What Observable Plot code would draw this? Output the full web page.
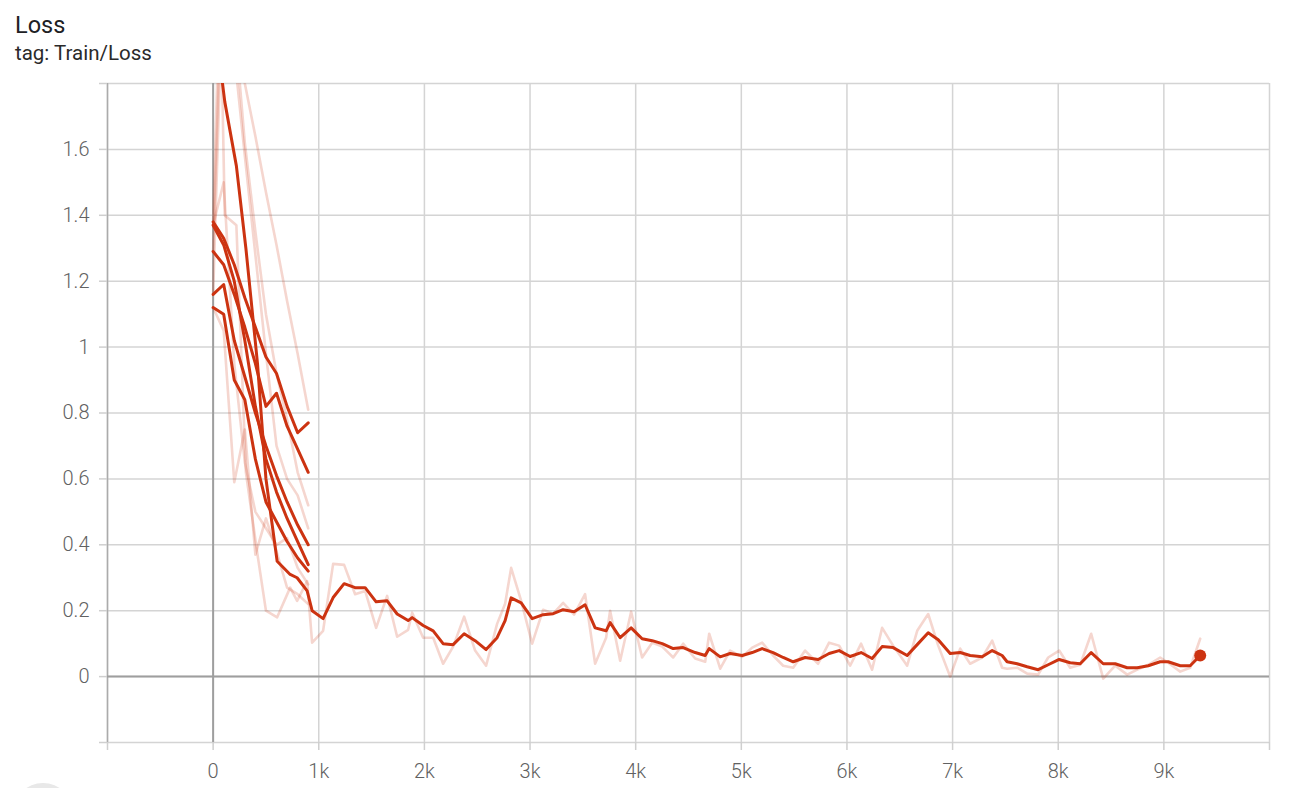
<!DOCTYPE html>
<html>
<head>
<meta charset="utf-8">
<script src="https://cdn.jsdelivr.net/npm/d3@7"></script>
<script src="https://cdn.jsdelivr.net/npm/@observablehq/plot@0.6"></script>
<style>
  html, body { margin: 0; padding: 0; background: #fff; width: 1300px; height: 788px; overflow: hidden; }
  #hdr { position: relative; height: 64px; font-family: Roboto, "Noto Sans", sans-serif; }
  #title { position: absolute; left: 15px; top: 14px; font-size: 23.5px; line-height: 23px; color: #202124; }
  #subtitle { position: absolute; left: 15px; top: 43px; font-size: 20.5px; line-height: 20px; color: #2a2a2a; }
  #chart svg { display: block; }
  #fab { position: absolute; left: 13px; top: 783px; width: 60px; height: 60px; border-radius: 50%; background: #e8e8e8; }
</style>
</head>
<body>
<div id="hdr"><div id="title">Loss</div><div id="subtitle">tag: Train/Loss</div></div>
<div id="chart"></div>
<div id="fab"></div>
<script>
// ---------- data ----------
const runColor = "#cc3311";

// long run (steps, raw values, smoothed values)
const mainSteps = [0,110,220,310,420,500,606,729,795,890,937,1041,1136,1240,1344,1439,1543,1647,1742,1846,1884,1988,2083,2177,2272,2376,2480,2584,2688,2764,2821,2916,3020,3124,3219,3313,3417,3521,3616,3720,3758,3853,3957,4061,4156,4251,4355,4449,4563,4658,4696,4800,4894,5008,5103,5197,5301,5396,5491,5604,5727,5831,5926,6030,6134,6238,6333,6437,6570,6665,6769,6864,6977,7072,7166,7280,7375,7469,7516,7611,7706,7810,7905,8009,8113,8208,8312,8426,8539,8653,8748,8852,8965,9041,9155,9249,9344];
const mainRaw = [3.2,1.40,1.37,0.62,0.37,0.20,0.18,0.27,0.23,0.29,0.103,0.139,0.342,0.339,0.25,0.26,0.148,0.245,0.121,0.142,0.194,0.118,0.118,0.039,0.091,0.182,0.079,0.033,0.16,0.221,0.33,0.23,0.10,0.203,0.191,0.224,0.188,0.25,0.039,0.118,0.20,0.048,0.197,0.058,0.103,0.091,0.058,0.10,0.055,0.045,0.13,0.024,0.079,0.06,0.088,0.103,0.064,0.033,0.027,0.079,0.039,0.103,0.094,0.033,0.10,0.021,0.148,0.094,0.033,0.139,0.19,0.094,0.0,0.085,0.039,0.058,0.109,0.027,0.024,0.027,0.009,0.006,0.058,0.079,0.027,0.036,0.13,-0.006,0.033,0.006,0.021,0.036,0.058,0.042,0.015,0.027,0.115];
const mainSmooth = [2.03,1.745,1.55,1.30,0.95,0.60,0.35,0.31,0.30,0.26,0.20,0.176,0.24,0.282,0.27,0.27,0.227,0.23,0.19,0.17,0.179,0.155,0.139,0.10,0.097,0.13,0.109,0.082,0.118,0.17,0.239,0.224,0.176,0.188,0.191,0.203,0.197,0.218,0.148,0.139,0.164,0.118,0.148,0.115,0.109,0.10,0.085,0.088,0.073,0.064,0.085,0.06,0.07,0.064,0.073,0.085,0.073,0.058,0.045,0.058,0.052,0.07,0.079,0.061,0.073,0.055,0.091,0.088,0.064,0.097,0.133,0.112,0.07,0.073,0.064,0.06,0.079,0.064,0.045,0.039,0.03,0.021,0.036,0.052,0.042,0.039,0.073,0.039,0.039,0.027,0.027,0.033,0.045,0.045,0.033,0.033,0.064];

// short runs (0 .. 900 steps)
const shortSteps = [0,100,200,300,400,500,600,700,800,900];
const runA_raw    = [1.38,2.50,2.10,1.80,1.64,1.47,1.31,1.14,0.98,0.81];
const runA_smooth = [1.38,1.33,1.25,1.15,1.06,0.97,0.92,0.82,0.74,0.77];
const runB_raw    = [1.29,2.30,2.00,1.62,1.35,1.10,0.92,0.78,0.62,0.52];
const runB_smooth = [1.29,1.25,1.16,1.06,0.95,0.82,0.86,0.76,0.69,0.62];
const runC_raw    = [1.16,2.20,1.89,1.58,1.28,0.98,0.70,0.60,0.55,0.45];
const runC_smooth = [1.16,1.19,1.02,0.91,0.80,0.70,0.61,0.53,0.46,0.40];
const runD_raw    = [1.12,1.05,0.59,0.75,0.37,0.48,0.38,0.27,0.25,0.22];
const runD_smooth = [1.12,1.10,0.90,0.84,0.66,0.53,0.47,0.41,0.36,0.32];
const runE_raw    = [1.37,1.50,0.95,0.65,0.50,0.45,0.40,0.42,0.33,0.28];
const runE_smooth = [1.37,1.31,1.20,1.02,0.82,0.66,0.56,0.48,0.41,0.34];

// axes
const xTickValues = [-1000,0,1000,2000,3000,4000,5000,6000,7000,8000,9000,10000];
const xTickLabels = ["","0","1k","2k","3k","4k","5k","6k","7k","8k","9k",""];
const yTickValues = [-0.2,0,0.2,0.4,0.6,0.8,1,1.2,1.4,1.6,1.8];
const yTickLabels = ["","0","0.2","0.4","0.6","0.8","1","1.2","1.4","1.6",""];

// ---------- build tables ----------
function rows(run, steps, vals) { return steps.map((s, i) => ({run, step: s, value: vals[i]})); }
const rawData = [
  ...rows("A", shortSteps, runA_raw), ...rows("B", shortSteps, runB_raw),
  ...rows("C", shortSteps, runC_raw), ...rows("D", shortSteps, runD_raw),
  ...rows("E", shortSteps, runE_raw), ...rows("main", mainSteps, mainRaw)
];
const smoothData = [
  ...rows("A", shortSteps, runA_smooth), ...rows("B", shortSteps, runB_smooth),
  ...rows("C", shortSteps, runC_smooth), ...rows("D", shortSteps, runD_smooth),
  ...rows("E", shortSteps, runE_smooth), ...rows("main", mainSteps, mainSmooth)
];
const lastPoint = [{step: mainSteps[mainSteps.length - 1], value: mainSmooth[mainSmooth.length - 1]}];

const xLab = new Map(xTickValues.map((v, i) => [v, xTickLabels[i]]));
const yLab = new Map(yTickValues.map((v, i) => [v, yTickLabels[i]]));

const chart = Plot.plot({
  width: 1300,
  height: 724,
  marginTop: 19,
  marginBottom: 46,
  marginLeft: 107,
  marginRight: 31,
  style: {fontFamily: "Roboto, 'Noto Sans', sans-serif", fontSize: "20px", color: "#616161", background: "#fff"},
  x: {domain: [-1000, 10000], label: null},
  y: {domain: [-0.2, 1.8], label: null},
  marks: [
    Plot.ruleX(xTickValues, {stroke: "#d4d4d4", strokeWidth: 1.5}),
    Plot.ruleY(yTickValues, {stroke: "#d4d4d4", strokeWidth: 1.5}),
    Plot.ruleX([-1000], {stroke: "#ababab", strokeWidth: 1.5}),
    Plot.ruleX([0], {stroke: "#9e9e9e", strokeWidth: 2}),
    Plot.ruleY([0], {stroke: "#9e9e9e", strokeWidth: 2}),
    Plot.axisX({ticks: xTickValues, tickFormat: d => xLab.get(d), label: null, tickSize: 8, tickPadding: 13, stroke: "#cfcfcf", strokeWidth: 1.5, fill: "#616161", fontWeight: 300}),
    Plot.axisY({ticks: yTickValues, tickFormat: d => yLab.get(d), label: null, tickSize: 8, tickPadding: 10, stroke: "#cfcfcf", strokeWidth: 1.5, fill: "#616161", fontWeight: 300}),
    Plot.line(rawData, {x: "step", y: "value", z: "run", stroke: runColor, strokeOpacity: 0.2, strokeWidth: 2.6, clip: true}),
    Plot.line(smoothData, {x: "step", y: "value", z: "run", stroke: runColor, strokeWidth: 3, clip: true}),
    Plot.dot(lastPoint, {x: "step", y: "value", r: 6, fill: runColor, stroke: "none"})
  ]
});
document.getElementById("chart").appendChild(chart);
</script>
</body>
</html>
